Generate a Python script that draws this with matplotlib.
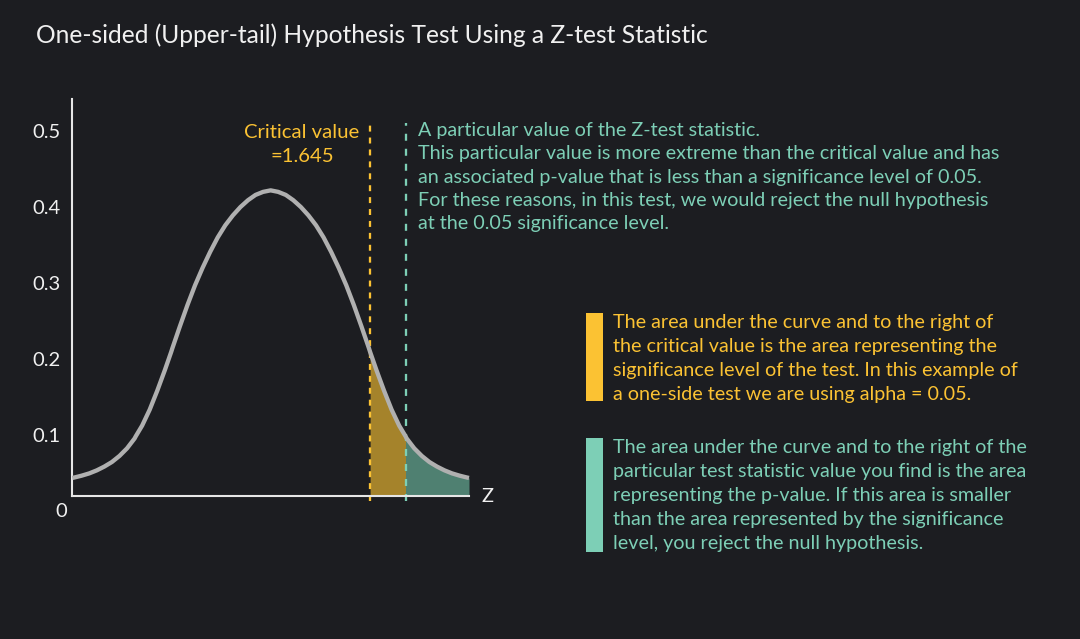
import matplotlib
matplotlib.use("Agg")
import matplotlib.pyplot as plt
from matplotlib.patches import Rectangle
import numpy as np

# ── Data ──────────────────────────────────────────────────────────────
z_vals = [
    -3.28, -3.25, -3.125, -3.0, -2.875, -2.75, -2.625, -2.5, -2.375, -2.25,
    -2.23, -2.125, -2.0, -1.875, -1.75, -1.645, -1.625, -1.5, -1.375, -1.25,
    -1.125, -1.0, -0.875, -0.75, -0.625, -0.5, -0.375, -0.25, -0.125, 0.0,
    0.125, 0.25, 0.375, 0.5, 0.625, 0.75, 0.875, 1.0, 1.125, 1.25,
    1.375, 1.5, 1.625, 1.645, 1.75, 1.875, 2.0, 2.125, 2.23, 2.25,
    2.375, 2.5, 2.625, 2.75, 2.875, 3.0, 3.125, 3.25, 3.28,
]
density = [
    0.043, 0.0435, 0.046, 0.049, 0.053, 0.058, 0.064, 0.072, 0.082, 0.095,
    0.098, 0.112, 0.133, 0.158, 0.185, 0.209, 0.214, 0.243, 0.271, 0.297,
    0.320, 0.341, 0.360, 0.376, 0.389, 0.400, 0.409, 0.416, 0.420, 0.422,
    0.420, 0.416, 0.409, 0.400, 0.389, 0.376, 0.360, 0.341, 0.320, 0.297,
    0.271, 0.243, 0.214, 0.209, 0.185, 0.158, 0.133, 0.112, 0.098, 0.095,
    0.082, 0.072, 0.064, 0.058, 0.053, 0.049, 0.046, 0.0435, 0.043,
]
critical_value = 1.645
test_statistic = 2.23
y_ticks = [0.1, 0.2, 0.3, 0.4, 0.5]

title = "One-sided (Upper-tail) Hypothesis Test Using a Z-test Statistic"
critical_label = ["Critical value", "=1.645"]
statistic_note = [
    "A particular value of the Z-test statistic.",
    "This particular value is more extreme than the critical value and has",
    "an associated p-value that is less than a significance level of 0.05.",
    "For these reasons, in this test, we would reject the null hypothesis",
    "at the 0.05 significance level.",
]
alpha_note = [
    "The area under the curve and to the right of",
    "the critical value is the area representing the",
    "significance level of the test. In this example of",
    "a one-side test we are using alpha = 0.05.",
]
pvalue_note = [
    "The area under the curve and to the right of the",
    "particular test statistic value you find is the area",
    "representing the p-value. If this area is smaller",
    "than the area represented by the significance",
    "level, you reject the null hypothesis.",
]

# ── Style ─────────────────────────────────────────────────────────────
BG = "#1c1d21"
YELLOW = "#fbc233"
TEAL = "#7dcfb6"
YELLOW_FILL = "#a5832b"
TEAL_FILL = "#4f8071"
CURVE = "#b0b0b0"
WHITE = "#f0f0f0"
W, H = 1080, 639

plt.rcParams["font.family"] = ["Lato", "DejaVu Sans"]

fig = plt.figure(figsize=(W / 100, H / 100), dpi=100, facecolor=BG)


def px_text(x, y, s, **kw):
    """Place text using pixel coordinates (origin top-left)."""
    fig.text(x / W, 1 - y / H, s, **kw)


def px_lines(x, y0, step, lines, **kw):
    for i, line in enumerate(lines):
        px_text(x, y0 + i * step, line, va="baseline", **kw)


# ── Axes ──────────────────────────────────────────────────────────────
left, right, top, bottom = 72.3, 469.0, 99.3, 495.7
ax = fig.add_axes([left / W, 1 - bottom / H, (right - left) / W, (bottom - top) / H])
ax.set_facecolor(BG)

z = np.array(z_vals)
y = np.array(density)
base = 0.0196

ax.set_xlim(z.min(), z.max())
ax.set_ylim(base, 0.542)

ax.fill_between(z, y, base, where=(z >= critical_value) & (z <= test_statistic),
                color=YELLOW_FILL, linewidth=0, zorder=1)
ax.fill_between(z, y, base, where=(z >= test_statistic),
                color=TEAL_FILL, linewidth=0, zorder=1)

ax.plot([critical_value, critical_value], [0.0126, 0.5107], color=YELLOW,
        linewidth=1.65, dashes=(2.6, 2.6), clip_on=False, zorder=2)
ax.plot([test_statistic, test_statistic], [0.0126, 0.5107], color=TEAL,
        linewidth=1.65, dashes=(3.05, 3.5), clip_on=False, zorder=2)

ax.plot(z, y, color=CURVE, linewidth=3.1, solid_capstyle="butt",
        solid_joinstyle="round", clip_on=False, zorder=3)

for side in ("top", "right"):
    ax.spines[side].set_visible(False)
for side in ("left", "bottom"):
    ax.spines[side].set_color("#e6e6e6")
    ax.spines[side].set_linewidth(1.5)

ax.set_xticks([])
ax.set_yticks(y_ticks)
ax.set_yticklabels([f"{t:.1f}" for t in y_ticks])
ax.tick_params(axis="y", length=0, pad=29, labelsize=14.5, labelcolor=WHITE)
for lbl in ax.get_yticklabels():
    lbl.set_horizontalalignment("left")

px_text(61, 517, "0", ha="center", va="baseline", fontsize=14.5, color=WHITE)
px_text(487.5, 501.7, "Z", ha="center", va="baseline", fontsize=14.5, color=WHITE)

# ── Text ──────────────────────────────────────────────────────────────
px_text(36, 43.3, title, ha="left", va="baseline", fontsize=17.7, color=WHITE)

px_lines(302, 138.3, 23.4, critical_label, ha="center", fontsize=14.6, color=YELLOW)
px_lines(417.7, 136, 23.35, statistic_note, ha="left", fontsize=14.2, color=TEAL)

fig.patches.append(Rectangle((586 / W, 1 - 400.7 / H), 16.7 / W, 88 / H,
                             transform=fig.transFigure, color=YELLOW, linewidth=0))
fig.patches.append(Rectangle((586 / W, 1 - 552.3 / H), 16.7 / W, 114 / H,
                             transform=fig.transFigure, color=TEAL, linewidth=0))

px_lines(613.3, 328.3, 24, alpha_note, ha="left", fontsize=14.2, color=YELLOW)
px_lines(613.3, 453.3, 24, pvalue_note, ha="left", fontsize=14.2, color=TEAL)

fig.savefig("out.png", dpi=100, facecolor=BG)
